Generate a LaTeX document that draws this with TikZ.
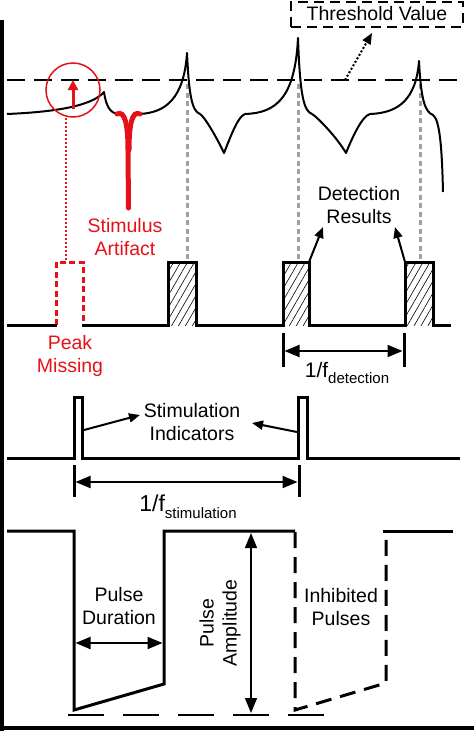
\documentclass[tikz,border=0pt]{standalone}
\usepackage{fontspec}
\setmainfont{Liberation Sans}
\usetikzlibrary{arrows.meta,patterns.meta}
\definecolor{myred}{RGB}{228,18,24}
\definecolor{mygray}{RGB}{160,160,160}
\newcommand{\sublbl}[1]{\raisebox{-0.3em}{\fontsize{15}{15}\selectfont #1}}
\begin{document}
\begin{tikzpicture}[x=1pt,y=-1pt,
  lbl/.style={font=\fontsize{19.5}{23}\selectfont, align=center, inner sep=0pt},
  redlbl/.style={lbl, text=myred},
  sig/.style={line width=2pt, line join=round},
  pulse/.style={line width=3pt, line join=miter},
  gdash/.style={mygray, line width=3pt, dash pattern=on 5pt off 3.5pt},
  arr/.style={-{Triangle[length=11pt,width=9pt]}, line width=2pt},
  dimarr/.style={{Triangle[length=15pt,width=12pt]}-{Triangle[length=15pt,width=12pt]}, line width=2pt},
  hatch/.style={pattern={Lines[angle=60,distance=6pt,line width=0.6pt]}},
  ldash/.style={line width=3pt, dash pattern=on 16pt off 9pt}
]
\useasboundingbox (0,0) rectangle (474,731);
% frame
\draw[line width=4pt] (2,20) -- (2,731);
\draw[line width=4pt] (0,728) -- (474,728);

% threshold
\node[draw, line width=2pt, dash pattern=on 10pt off 6pt, minimum width=172pt, minimum height=25pt] (thr) at (377,14) {};
\node[lbl] (thrtxt) at (thr.center) {Threshold Value};
\draw[line width=1.5pt, dash pattern=on 18pt off 9pt] (7,80) -- (457,80);
\coordinate (thrpt) at (345,80);
\draw[arr, dotted, line width=2pt] (thrpt) -- (372,33);

% gray dashed verticals
\draw[gdash] (187,84) -- (187,262);
\draw[gdash] (298,84) -- (298,262);
\draw[gdash] (420,84) -- (420,262);

% signal
\draw[sig] (7,114) .. controls (55,112) and (92,106) .. (104,92)
  .. controls (106,106) and (110,113) .. (118,114);
\draw[sig] (139,114) .. controls (166,113) and (184,98) .. (187,53)
  .. controls (189,96) and (192,111) .. (200,114)
  .. controls (204,116) and (216,136) .. (224,153)
  .. controls (230,138) and (238,116) .. (245,114)
  .. controls (276,113) and (295,98) .. (298,38)
  .. controls (300,97) and (304,111) .. (312,114)
  .. controls (316,116) and (336,136) .. (346,153)
  .. controls (352,138) and (362,116) .. (370,114)
  .. controls (398,113) and (416,100) .. (419,61)
  .. controls (421,100) and (425,112) .. (433,115)
  .. controls (440,120) and (442,150) .. (443,192);

% stimulus artifact
\draw[myred, line width=5pt, line cap=round] (117,114) .. controls (125,110) and (128,125) .. (128,150) -- (128.5,208);
\draw[myred, line width=5pt, line cap=round] (140,114) .. controls (132,110) and (129,125) .. (129,150);
\node[redlbl] (art) at (125,237) {Stimulus\\Artifact};

% missing peak
\node[draw=myred, line width=1.5pt, circle, minimum size=54pt, inner sep=0] (circ) at (73,90) {};
\draw[myred, -{Triangle[length=10pt,width=10pt]}, line width=3pt] (73,109) -- (73,80);
\draw[myred, line width=2pt, dotted] (66,118) -- (66,262);
\draw[myred, line width=3pt, dash pattern=on 6pt off 3.5pt] (56,325) -- (56,262) -- (83,262) -- (83,325);
\node[redlbl] (pm) at (70,356) {Peak\\Missing};

% detection pulses
\fill[hatch] (168,262) rectangle (196,325);
\fill[hatch] (283,262) rectangle (309,325);
\fill[hatch] (405,262) rectangle (433,325);
\draw[pulse] (7,325) -- (57,325);
\draw[pulse] (82,325) -- (168,325) -- (168,262) -- (196,262) -- (196,325) -- (283,325) -- (283,262) -- (309,262) -- (309,325) -- (405,325) -- (405,262) -- (433,262) -- (433,325) -- (451,325);
\node[lbl] (det) at (359,205) {Detection\\Results};
\coordinate (p2) at (309,262);
\coordinate (p3) at (405,262);
\draw[arr] (p2) -- (323,227);
\draw[arr] (p3) -- (395,227);

% 1/f detection
\draw[line width=3pt] (283,333) -- (283,367);
\draw[line width=3pt] (404,333) -- (404,367);
\draw[dimarr] (284.5,351) -- (402.5,351);
\node[lbl, font=\fontsize{21}{24}\selectfont] (fdet) at (347,373) {1/f\sublbl{detection}};

% stimulation indicators
\draw[pulse] (7,458) -- (74,458) -- (74,397) -- (82,397) -- (82,458) -- (298,458) -- (298,397) -- (307,397) -- (307,458) -- (460,458);
\node[lbl] (si) at (192,422) {Stimulation\\Indicators};
\draw[arr] (84,430) -- (140,415);
\draw[arr] (297,432) -- (252,423);

% 1/f stimulation
\draw[line width=3pt] (74,465) -- (74,497);
\draw[line width=3pt] (299,465) -- (299,497);
\draw[dimarr] (75.5,482) -- (297.5,482);
\node[lbl, font=\fontsize{23}{26}\selectfont] (fstim) at (188,507) {1/f\sublbl{stimulation}};

% stimulation pulses
\draw[pulse] (7,531) -- (74,531) -- (74,710) -- (164,684) -- (164,531) -- (295,531);
\draw[ldash] (295,532) -- (295,710) -- (386,683) -- (386,534);
\draw[pulse] (383,531) -- (453,531);
\draw[line width=2pt, dash pattern=on 36pt off 19pt] (68,715) -- (325,715);
\node[lbl] (pd) at (119,606) {Pulse\\Duration};
\draw[dimarr] (75.5,643) -- (162.5,643);
\draw[dimarr, line width=1.5pt] (251,533) -- (251,713);
\node[lbl, rotate=90] (pa) at (220,623) {Pulse\\Amplitude};
\node[lbl] (ip) at (341,607) {Inhibited\\Pulses};
\end{tikzpicture}
\end{document}
